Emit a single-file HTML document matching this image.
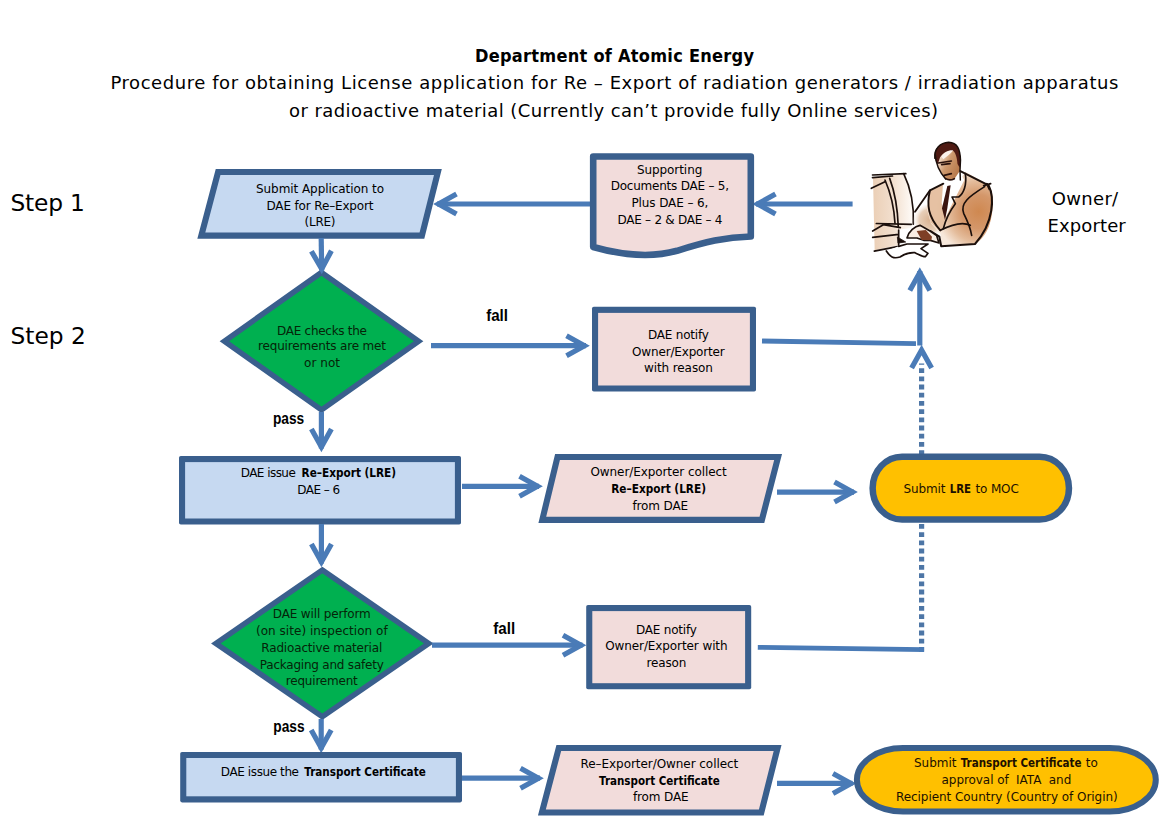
<!DOCTYPE html>
<html lang="en">
<head>
<meta charset="utf-8">
<title>Department of Atomic Energy – Re-Export License Procedure</title>
<style>
html,body{margin:0;padding:0;background:#fff;}
body{width:1176px;height:840px;overflow:hidden;font-family:"Liberation Sans",Arial,sans-serif;}
svg{display:block;}
svg text{white-space:pre;}
</style>
</head>
<body>
<svg width="1176" height="840" viewBox="0 0 1176 840" role="img" aria-label="Flowchart: procedure for obtaining a Re-Export license from the Department of Atomic Energy">
<rect width="1176" height="840" fill="#ffffff"/>
<defs>
<linearGradient id="gMon" x1="0" y1="0" x2="1" y2="0"><stop offset="0" stop-color="#EBCFB6"/><stop offset="0.5" stop-color="#F2DFCE"/><stop offset="1" stop-color="#FFFCF9"/></linearGradient>
<radialGradient id="gSuit" gradientUnits="userSpaceOnUse" cx="712" cy="490" r="255"><stop offset="0" stop-color="#CF8850"/><stop offset="0.4" stop-color="#D4976A"/><stop offset="0.72" stop-color="#E4BC9B"/><stop offset="1" stop-color="#F7E8DB"/></radialGradient>
<radialGradient id="gFade" gradientUnits="userSpaceOnUse" cx="420" cy="540" r="110"><stop offset="0" stop-color="#D9B291"/><stop offset="0.6" stop-color="#E8CFB9"/><stop offset="1" stop-color="#ffffff" stop-opacity="0"/></radialGradient>
<linearGradient id="gFace" x1="0" y1="0" x2="1" y2="0.7"><stop offset="0" stop-color="#FFF9F4"/><stop offset="0.3" stop-color="#F1DBC8"/><stop offset="0.58" stop-color="#CE996E"/><stop offset="1" stop-color="#B7784A"/></linearGradient>
</defs>
<g transform="translate(860,130) scale(0.16667)" fill="none" stroke-linecap="round" stroke-linejoin="round">
<!-- monitor -->
<path d="M78,288 L268,264 C300,335 322,425 320,585 L232,598 L232,692 L88,722 Z" fill="url(#gMon)"/>
<path d="M75,270 L275,262 M75,286 L195,276 M68,350 L150,310" stroke="#1b0f0b" stroke-width="10.0"/>
<path d="M150,300 C185,380 205,470 210,560 M178,290 C212,380 226,470 230,585" stroke="#1b0f0b" stroke-width="10.0"/>
<path d="M262,262 C300,340 326,430 320,565" stroke="#1b0f0b" stroke-width="10.0"/>
<path d="M98,561 L308,566 M76,606 L140,568 L242,586 M76,644 L232,626 M86,727 L232,698 M232,600 L232,690" stroke="#1b0f0b" stroke-width="10.0"/>
<!-- fade between monitor and body -->
<ellipse cx="415" cy="545" rx="95" ry="100" fill="url(#gFade)"/>
<!-- suit -->
<path d="M490,690 L690,684 C765,640 802,540 796,400 C792,362 782,342 770,330 L632,250 L600,300 L500,328 L420,362 L400,470 L425,560 L482,622 Z" fill="url(#gSuit)"/>
<path d="M420,362 L500,326 L520,480 L500,590 L482,610 L425,555 L405,470 Z" fill="#E3BD9C" opacity="0.9"/>
<!-- shirt and tie -->
<path d="M498,326 L560,300 L602,262 L626,300 L580,392 L540,470 L516,520 L490,440 Z" fill="#ffffff"/>
<path d="M524,336 L544,332 L524,470 L510,540 L492,470 Z" fill="#3a1510"/>
<!-- face -->
<path d="M452,150 C454,100 520,76 580,94 C602,124 606,184 600,244 L566,294 L514,294 C484,254 457,209 452,150 Z" fill="url(#gFace)"/>
<path d="M488,160 C505,128 540,112 562,118 C548,140 522,156 500,176 Z" fill="#FBF1EA"/>
<!-- hair -->
<path d="M446,168 C440,110 480,78 532,74 C585,78 600,110 603,180 L598,226 L585,204 C582,160 572,135 556,122 C530,120 500,135 480,165 L466,206 Z" fill="#4F1A13"/>
<path d="M470,198 L548,186 M490,208 L540,202 M505,272 L548,262 M514,292 C530,302 552,300 566,292" stroke="#2a120c" stroke-width="10.0"/>
<!-- outlines -->
<path d="M330,490 L420,362 L500,322" stroke="#1b0f0b" stroke-width="11.2"/>
<path d="M420,362 C398,452 410,522 482,602" stroke="#1b0f0b" stroke-width="11.2"/>
<path d="M602,247 L772,332 C806,402 806,552 690,684 L487,697 L476,640 L420,606" stroke="#1b0f0b" stroke-width="12.5"/>
<path d="M742,334 L784,322 M776,356 L760,322" stroke="#1b0f0b" stroke-width="10.0"/>
<path d="M748,340 C652,400 600,440 622,500 C642,540 662,582 670,632" stroke="#1b0f0b" stroke-width="10.0"/>
<path d="M632,262 C642,330 622,382 592,402 L552,402 L572,442 C542,482 512,542 500,592" stroke="#1b0f0b" stroke-width="10.0"/>
<path d="M482,602 C560,562 622,552 662,572" stroke="#1b0f0b" stroke-width="10.0"/>
<path d="M600,240 L602,300 M452,150 C454,200 480,255 514,294 M450,170 C444,110 482,78 532,74 C585,78 600,110 603,180 L600,240" stroke="#1b0f0b" stroke-width="8.8"/>
<!-- hands and keyboard -->
<path d="M282,648 C292,606 330,578 360,572 L420,606 L460,634 L474,678 L422,662 L382,662 L342,648 Z" fill="#F8ECE2" stroke="#1b0f0b" stroke-width="10.0"/>
<path d="M340,606 L395,600 L432,640 L428,662 L370,660 Z" fill="#7E3F26"/>
<path d="M158,726 C180,760 200,775 240,762 C270,742 300,734 330,736 C360,750 380,762 392,760 L408,740 L366,712 L408,684 L282,684 L232,698" fill="#ffffff" stroke="#1b0f0b" stroke-width="10.0"/>
<path d="M226,643 L274,672 L230,678 Z" fill="#1b0f0b" stroke="#1b0f0b" stroke-width="5.0"/>
</g>

<text x="614.5" y="62" font-family='"DejaVu Sans Condensed", "DejaVu Sans", sans-serif' font-size="18" font-weight="bold" text-anchor="middle" fill="#000" textLength="279" lengthAdjust="spacing">Department of Atomic Energy</text>
<text x="614.4" y="89.3" font-family='"DejaVu Sans", "Liberation Sans", sans-serif' font-size="18" font-weight="normal" text-anchor="middle" fill="#000" textLength="1008" lengthAdjust="spacing">Procedure for obtaining License application for Re – Export of radiation generators / irradiation apparatus</text>
<text x="613.6" y="117" font-family='"DejaVu Sans", "Liberation Sans", sans-serif' font-size="18" font-weight="normal" text-anchor="middle" fill="#000" textLength="649" lengthAdjust="spacing">or radioactive material (Currently can’t provide fully Online services)</text>
<text x="10.5" y="211.4" font-family='"DejaVu Sans", "Liberation Sans", sans-serif' font-size="23.3" font-weight="normal" text-anchor="start" fill="#000" textLength="74.3" lengthAdjust="spacing">Step 1</text>
<text x="10.5" y="344.1" font-family='"DejaVu Sans", "Liberation Sans", sans-serif' font-size="23.3" font-weight="normal" text-anchor="start" fill="#000" textLength="75.3" lengthAdjust="spacing">Step 2</text>
<text x="1085" y="204.7" font-family='"DejaVu Sans", "Liberation Sans", sans-serif' font-size="18" font-weight="normal" text-anchor="middle" fill="#000" textLength="66.3" lengthAdjust="spacing">Owner/</text>
<text x="1086.6" y="231.7" font-family='"DejaVu Sans", "Liberation Sans", sans-serif' font-size="18" font-weight="normal" text-anchor="middle" fill="#000" textLength="78.3" lengthAdjust="spacing">Exporter</text>
<polygon points="218.1,172.05 437.9,172.05 421.9,235.64999999999998 201.3,235.64999999999998" fill="#C6D9F1" stroke="#3A5F8D" stroke-width="6.1" stroke-linejoin="miter"/>
<text x="320" y="193" font-family='"DejaVu Sans", "Liberation Sans", sans-serif' font-size="12" font-weight="normal" text-anchor="middle" fill="#000" textLength="128" lengthAdjust="spacing">Submit Application to</text>
<text x="320" y="209.5" font-family='"DejaVu Sans", "Liberation Sans", sans-serif' font-size="12" font-weight="normal" text-anchor="middle" fill="#000" textLength="107" lengthAdjust="spacing">DAE for Re–Export</text>
<text x="320" y="226" font-family='"DejaVu Sans", "Liberation Sans", sans-serif' font-size="12" font-weight="normal" text-anchor="middle" fill="#000" textLength="31" lengthAdjust="spacing">(LRE)</text>
<line x1="590.0" y1="204.0" x2="437.0" y2="204.0" stroke="#4A7BB7" stroke-width="5.2"/>
<polyline points="456.5,194.0 438.5,204.0 456.5,214.0" fill="none" stroke="#4A7BB7" stroke-width="5.2" stroke-linejoin="miter" stroke-miterlimit="10"/>
<line x1="852.6" y1="204.0" x2="756.0" y2="204.0" stroke="#4A7BB7" stroke-width="5.2"/>
<polyline points="775.5,194.0 757.5,204.0 775.5,214.0" fill="none" stroke="#4A7BB7" stroke-width="5.2" stroke-linejoin="miter" stroke-miterlimit="10"/>
<path d="M593.2,156.5 H750.8 V236.5 C725,237 705,242 677,250.8 C655,257 625,256 593.2,247 Z" fill="#F2DCDB" stroke="#3A5F8D" stroke-width="6.6" stroke-linejoin="round"/>
<text x="669.6" y="173.8" font-family='"DejaVu Sans", "Liberation Sans", sans-serif' font-size="12" font-weight="normal" text-anchor="middle" fill="#000" textLength="65.4" lengthAdjust="spacing">Supporting</text>
<text x="669.9" y="190.3" font-family='"DejaVu Sans", "Liberation Sans", sans-serif' font-size="12" font-weight="normal" text-anchor="middle" fill="#000" textLength="118.3" lengthAdjust="spacing">Documents DAE – 5,</text>
<text x="669.9" y="206.9" font-family='"DejaVu Sans", "Liberation Sans", sans-serif' font-size="12" font-weight="normal" text-anchor="middle" fill="#000" textLength="77" lengthAdjust="spacing">Plus DAE – 6,</text>
<text x="670" y="223.7" font-family='"DejaVu Sans", "Liberation Sans", sans-serif' font-size="12" font-weight="normal" text-anchor="middle" fill="#000" textLength="105" lengthAdjust="spacing">DAE – 2 &amp; DAE – 4</text>
<polygon points="321.5,272.4 418.6,341.2 321.5,410.0 224.4,341.2" fill="#00B050" stroke="#3A5F8D" stroke-width="5.5" stroke-linejoin="miter"/>
<line x1="321.2" y1="238.0" x2="321.7" y2="270.5" stroke="#4A7BB7" stroke-width="5.2"/>
<polyline points="311.4,251.2 321.7,269.0 331.4,250.8" fill="none" stroke="#4A7BB7" stroke-width="5.2" stroke-linejoin="miter" stroke-miterlimit="10"/>
<text x="322" y="334.5" font-family='"DejaVu Sans", "Liberation Sans", sans-serif' font-size="12" font-weight="normal" text-anchor="middle" fill="#052408" textLength="90" lengthAdjust="spacing">DAE checks the</text>
<text x="322" y="350.3" font-family='"DejaVu Sans", "Liberation Sans", sans-serif' font-size="12" font-weight="normal" text-anchor="middle" fill="#052408" textLength="128" lengthAdjust="spacing">requirements are met</text>
<text x="322" y="367" font-family='"DejaVu Sans", "Liberation Sans", sans-serif' font-size="12" font-weight="normal" text-anchor="middle" fill="#052408" textLength="36" lengthAdjust="spacing">or not</text>
<line x1="431.0" y1="345.7" x2="586.0" y2="345.7" stroke="#4A7BB7" stroke-width="5.2"/>
<polyline points="566.5,355.7 584.5,345.7 566.5,335.7" fill="none" stroke="#4A7BB7" stroke-width="5.2" stroke-linejoin="miter" stroke-miterlimit="10"/>
<text x="497.1" y="320.8" font-family='"Liberation Sans", Arial, sans-serif' font-size="16" font-weight="bold" text-anchor="middle" fill="#000" textLength="21.9" lengthAdjust="spacingAndGlyphs">fall</text>
<rect x="592" y="306.8" width="164.0" height="84.8" rx="1.8" fill="#3A5F8D"/>
<rect x="598.1" y="312.90000000000003" width="151.8" height="72.6" fill="#F2DCDB"/>
<text x="678.4" y="339" font-family='"DejaVu Sans", "Liberation Sans", sans-serif' font-size="12" font-weight="normal" text-anchor="middle" fill="#000" textLength="61" lengthAdjust="spacing">DAE notify</text>
<text x="678.4" y="355.6" font-family='"DejaVu Sans", "Liberation Sans", sans-serif' font-size="12" font-weight="normal" text-anchor="middle" fill="#000" textLength="92.7" lengthAdjust="spacing">Owner/Exporter</text>
<text x="678.4" y="371.5" font-family='"DejaVu Sans", "Liberation Sans", sans-serif' font-size="12" font-weight="normal" text-anchor="middle" fill="#000" textLength="69" lengthAdjust="spacing">with reason</text>
<line x1="762" y1="341" x2="916" y2="343.6" stroke="#4A7BB7" stroke-width="4.8"/>
<line x1="919.8" y1="345.5" x2="919.8" y2="271.0" stroke="#4A7BB7" stroke-width="5.2"/>
<polyline points="929.8,290.5 919.8,272.5 909.8,290.5" fill="none" stroke="#4A7BB7" stroke-width="5.2" stroke-linejoin="miter" stroke-miterlimit="10"/>
<line x1="921.6" y1="651.8" x2="921.6" y2="363.5" stroke="#4D76A6" stroke-width="5.2" stroke-dasharray="4.8 3.4"/>
<polyline points="931.6,368.0 921.6,350.0 911.6,368.0" fill="none" stroke="#4A7BB7" stroke-width="5.2" stroke-linejoin="miter" stroke-miterlimit="10"/>
<text x="288.6" y="424.3" font-family='"Liberation Sans", Arial, sans-serif' font-size="16.4" font-weight="bold" text-anchor="middle" fill="#000" textLength="31.3" lengthAdjust="spacingAndGlyphs">pass</text>
<line x1="321.4" y1="412.0" x2="321.4" y2="448.5" stroke="#4A7BB7" stroke-width="5.2"/>
<polyline points="311.4,429.0 321.4,447.0 331.4,429.0" fill="none" stroke="#4A7BB7" stroke-width="5.2" stroke-linejoin="miter" stroke-miterlimit="10"/>
<rect x="179" y="456" width="282.0" height="68.6" rx="1.8" fill="#3A5F8D"/>
<rect x="185.1" y="462.1" width="269.8" height="56.4" fill="#C6D9F1"/>
<text x="240.7" y="477.1" font-family='"DejaVu Sans", "Liberation Sans", sans-serif' font-size="12" font-weight="normal" text-anchor="start" fill="#000" textLength="55.1" lengthAdjust="spacing">DAE issue</text>
<text x="301.6" y="477.1" font-family='"DejaVu Sans Condensed", "DejaVu Sans", sans-serif' font-size="12" font-weight="bold" text-anchor="start" fill="#000" textLength="94.5" lengthAdjust="spacingAndGlyphs">Re–Export (LRE)</text>
<text x="318.8" y="494.4" font-family='"DejaVu Sans", "Liberation Sans", sans-serif' font-size="12" font-weight="normal" text-anchor="middle" fill="#000" textLength="42.9" lengthAdjust="spacing">DAE – 6</text>
<line x1="462.0" y1="486.3" x2="539.0" y2="486.3" stroke="#4A7BB7" stroke-width="5.2"/>
<polyline points="519.5,496.3 537.5,486.3 519.5,476.3" fill="none" stroke="#4A7BB7" stroke-width="5.2" stroke-linejoin="miter" stroke-miterlimit="10"/>
<polygon points="557.5,457.05 778.1,457.05 761.9,519.85 542.3,519.85" fill="#F2DCDB" stroke="#3A5F8D" stroke-width="6.1" stroke-linejoin="miter"/>
<text x="658.6" y="475.8" font-family='"DejaVu Sans", "Liberation Sans", sans-serif' font-size="12" font-weight="normal" text-anchor="middle" fill="#000" textLength="136.2" lengthAdjust="spacing">Owner/Exporter collect</text>
<text x="658.6" y="492.7" font-family='"DejaVu Sans Condensed", "DejaVu Sans", sans-serif' font-size="12" font-weight="bold" text-anchor="middle" fill="#000" textLength="94.8" lengthAdjust="spacingAndGlyphs">Re–Export (LRE)</text>
<text x="660.3" y="509.5" font-family='"DejaVu Sans", "Liberation Sans", sans-serif' font-size="12" font-weight="normal" text-anchor="middle" fill="#000" textLength="55.6" lengthAdjust="spacing">from DAE</text>
<line x1="777.0" y1="492.1" x2="854.0" y2="492.1" stroke="#4A7BB7" stroke-width="5.2"/>
<polyline points="834.5,502.1 852.5,492.1 834.5,482.1" fill="none" stroke="#4A7BB7" stroke-width="5.2" stroke-linejoin="miter" stroke-miterlimit="10"/>
<rect x="872.65" y="456.65" width="196.30000000000007" height="62.89999999999998" rx="29.4" ry="31.4" fill="#FFC000" stroke="#3A5F8D" stroke-width="6.5"/>
<text x="903.4" y="492.7" font-family='"DejaVu Sans", "Liberation Sans", sans-serif' font-size="12" font-weight="normal" text-anchor="start" fill="#1c1000" textLength="42.1" lengthAdjust="spacing">Submit</text>
<text x="949.7" y="492.7" font-family='"DejaVu Sans Condensed", "DejaVu Sans", sans-serif' font-size="12" font-weight="bold" text-anchor="start" fill="#1c1000" textLength="21.3" lengthAdjust="spacingAndGlyphs">LRE</text>
<text x="975.5" y="492.7" font-family='"DejaVu Sans", "Liberation Sans", sans-serif' font-size="12" font-weight="normal" text-anchor="start" fill="#1c1000" textLength="43.3" lengthAdjust="spacing">to MOC</text>
<line x1="321.4" y1="524.0" x2="321.4" y2="563.5" stroke="#4A7BB7" stroke-width="5.2"/>
<polyline points="311.4,544.0 321.4,562.0 331.4,544.0" fill="none" stroke="#4A7BB7" stroke-width="5.2" stroke-linejoin="miter" stroke-miterlimit="10"/>
<polygon points="322.3,570.1 428.7,643.4 322.3,716.7 215.9,643.4" fill="#00B050" stroke="#3A5F8D" stroke-width="5.5" stroke-linejoin="miter"/>
<text x="321.8" y="618.0" font-family='"DejaVu Sans", "Liberation Sans", sans-serif' font-size="12" font-weight="normal" text-anchor="middle" fill="#052408" textLength="98" lengthAdjust="spacing">DAE will perform</text>
<text x="321.8" y="635.4" font-family='"DejaVu Sans", "Liberation Sans", sans-serif' font-size="12" font-weight="normal" text-anchor="middle" fill="#052408" textLength="131.7" lengthAdjust="spacing">(on site) inspection of</text>
<text x="321.8" y="651.8" font-family='"DejaVu Sans", "Liberation Sans", sans-serif' font-size="12" font-weight="normal" text-anchor="middle" fill="#052408" textLength="121" lengthAdjust="spacing">Radioactive material</text>
<text x="321.8" y="668.8" font-family='"DejaVu Sans", "Liberation Sans", sans-serif' font-size="12" font-weight="normal" text-anchor="middle" fill="#052408" textLength="124" lengthAdjust="spacing">Packaging and safety</text>
<text x="321.8" y="685.3" font-family='"DejaVu Sans", "Liberation Sans", sans-serif' font-size="12" font-weight="normal" text-anchor="middle" fill="#052408" textLength="72" lengthAdjust="spacing">requirement</text>
<line x1="432.0" y1="645.2" x2="582.5" y2="645.2" stroke="#4A7BB7" stroke-width="5.2"/>
<polyline points="563.0,655.2 581.0,645.2 563.0,635.2" fill="none" stroke="#4A7BB7" stroke-width="5.2" stroke-linejoin="miter" stroke-miterlimit="10"/>
<text x="504.2" y="633.6" font-family='"Liberation Sans", Arial, sans-serif' font-size="16" font-weight="bold" text-anchor="middle" fill="#000" textLength="21.9" lengthAdjust="spacingAndGlyphs">fall</text>
<rect x="586.2" y="605" width="165.0" height="84.3" rx="1.8" fill="#3A5F8D"/>
<rect x="592.3000000000001" y="611.1" width="152.8" height="72.1" fill="#F2DCDB"/>
<text x="666.4" y="633.6" font-family='"DejaVu Sans", "Liberation Sans", sans-serif' font-size="12" font-weight="normal" text-anchor="middle" fill="#000" textLength="61" lengthAdjust="spacing">DAE notify</text>
<text x="666.4" y="650.4" font-family='"DejaVu Sans", "Liberation Sans", sans-serif' font-size="12" font-weight="normal" text-anchor="middle" fill="#000" textLength="122.4" lengthAdjust="spacing">Owner/Exporter with</text>
<text x="666.4" y="666.6" font-family='"DejaVu Sans", "Liberation Sans", sans-serif' font-size="12" font-weight="normal" text-anchor="middle" fill="#000" textLength="40" lengthAdjust="spacing">reason</text>
<line x1="757.8" y1="647.3" x2="924" y2="649.6" stroke="#4A7BB7" stroke-width="4.8"/>
<text x="288.9" y="731.5" font-family='"Liberation Sans", Arial, sans-serif' font-size="16.4" font-weight="bold" text-anchor="middle" fill="#000" textLength="31.3" lengthAdjust="spacingAndGlyphs">pass</text>
<line x1="321.2" y1="719.0" x2="321.2" y2="749.5" stroke="#4A7BB7" stroke-width="5.2"/>
<polyline points="311.2,730.0 321.2,748.0 331.2,730.0" fill="none" stroke="#4A7BB7" stroke-width="5.2" stroke-linejoin="miter" stroke-miterlimit="10"/>
<rect x="180.2" y="751.9" width="281.8" height="50.5" rx="1.8" fill="#3A5F8D"/>
<rect x="186.29999999999998" y="758.0" width="269.6" height="38.3" fill="#C6D9F1"/>
<text x="220.8" y="775.5" font-family='"DejaVu Sans", "Liberation Sans", sans-serif' font-size="12" font-weight="normal" text-anchor="start" fill="#000" textLength="78.2" lengthAdjust="spacing">DAE issue the</text>
<text x="304.3" y="775.5" font-family='"DejaVu Sans Condensed", "DejaVu Sans", sans-serif' font-size="12" font-weight="bold" text-anchor="start" fill="#000" textLength="121.4" lengthAdjust="spacingAndGlyphs">Transport Certificate</text>
<line x1="462.0" y1="778.2" x2="540.0" y2="778.2" stroke="#4A7BB7" stroke-width="5.2"/>
<polyline points="520.5,788.2 538.5,778.2 520.5,768.2" fill="none" stroke="#4A7BB7" stroke-width="5.2" stroke-linejoin="miter" stroke-miterlimit="10"/>
<polygon points="558.8,747.9499999999999 777.6,747.9499999999999 761.3,812.5500000000001 541.9,812.5500000000001" fill="#F2DCDB" stroke="#3A5F8D" stroke-width="6.1" stroke-linejoin="miter"/>
<text x="659.4" y="768.0" font-family='"DejaVu Sans", "Liberation Sans", sans-serif' font-size="12" font-weight="normal" text-anchor="middle" fill="#000" textLength="157.8" lengthAdjust="spacing">Re–Exporter/Owner collect</text>
<text x="659.4" y="784.9" font-family='"DejaVu Sans Condensed", "DejaVu Sans", sans-serif' font-size="12" font-weight="bold" text-anchor="middle" fill="#000" textLength="120.6" lengthAdjust="spacingAndGlyphs">Transport Certificate</text>
<text x="660.8" y="801.3" font-family='"DejaVu Sans", "Liberation Sans", sans-serif' font-size="12" font-weight="normal" text-anchor="middle" fill="#000" textLength="55.6" lengthAdjust="spacing">from DAE</text>
<line x1="777.0" y1="783.4" x2="852.5" y2="783.4" stroke="#4A7BB7" stroke-width="5.2"/>
<polyline points="833.0,793.4 851.0,783.4 833.0,773.4" fill="none" stroke="#4A7BB7" stroke-width="5.2" stroke-linejoin="miter" stroke-miterlimit="10"/>
<rect x="856.9" y="748.1" width="298.9" height="63.39999999999998" rx="46.1" ry="31.7" fill="#FFC000" stroke="#3A5F8D" stroke-width="6"/>
<text x="914" y="767.4" font-family='"DejaVu Sans", "Liberation Sans", sans-serif' font-size="12" font-weight="normal" text-anchor="start" fill="#1c1000" textLength="42.5" lengthAdjust="spacing">Submit</text>
<text x="960.8" y="767.4" font-family='"DejaVu Sans Condensed", "DejaVu Sans", sans-serif' font-size="12" font-weight="bold" text-anchor="start" fill="#1c1000" textLength="120.7" lengthAdjust="spacingAndGlyphs">Transport Certificate</text>
<text x="1085.8" y="767.4" font-family='"DejaVu Sans", "Liberation Sans", sans-serif' font-size="12" font-weight="normal" text-anchor="start" fill="#1c1000" textLength="12.1" lengthAdjust="spacing">to</text>
<text x="1006.4" y="784.4" font-family='"DejaVu Sans", "Liberation Sans", sans-serif' font-size="12" font-weight="normal" text-anchor="middle" fill="#1c1000" textLength="129.7" lengthAdjust="spacing">approval of  IATA  and</text>
<text x="1006.8" y="801" font-family='"DejaVu Sans", "Liberation Sans", sans-serif' font-size="12" font-weight="normal" text-anchor="middle" fill="#1c1000" textLength="221.8" lengthAdjust="spacing">Recipient Country (Country of Origin)</text>
</svg>
</body>
</html>
